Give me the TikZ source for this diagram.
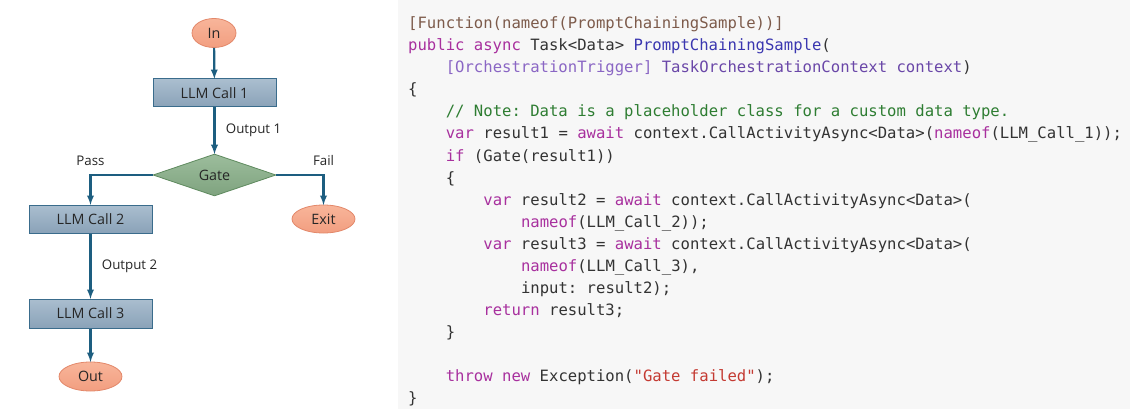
\documentclass[tikz,border=0pt]{standalone}
\usepackage{fontspec}
\setmainfont{Open Sans}
\setmonofont{DejaVu Sans Mono}
\usetikzlibrary{arrows,shapes.geometric}

\definecolor{flowline}{HTML}{1D5E80}
\definecolor{boxedge}{HTML}{3A6C8C}
\definecolor{boxtop}{HTML}{AABECF}
\definecolor{boxbot}{HTML}{8AA2B8}
\definecolor{ovaledge}{HTML}{E3886A}
\definecolor{ovaltop}{HTML}{F8B59A}
\definecolor{ovalbot}{HTML}{F29E80}
\definecolor{gateedge}{HTML}{5E8A5E}
\definecolor{gatetop}{HTML}{9CBD9C}
\definecolor{gatebot}{HTML}{7FA37F}
\definecolor{codebg}{HTML}{F7F7F7}
\definecolor{ctxt}{HTML}{333333}
\definecolor{ckw}{HTML}{A8309E}
\definecolor{cattr}{HTML}{7D5B4B}
\definecolor{cfunc}{HTML}{3A36B0}
\definecolor{ctrig}{HTML}{8A66C4}
\definecolor{ctype}{HTML}{6A47A8}
\definecolor{ccom}{HTML}{2E7D32}
\definecolor{cstr}{HTML}{C43A32}

\newcommand{\codekw}[1]{\textcolor{ckw}{#1}}
\newcommand{\codecom}[1]{\textcolor{ccom}{#1}}

\begin{document}
\begin{tikzpicture}[>=latex,x=1pt,y=-1pt,
	box/.style={draw=boxedge,line width=1pt,top color=boxtop,bottom color=boxbot,
		minimum width=123pt,minimum height=28pt,inner sep=0pt,font=\fontsize{14.3}{16}\selectfont,text=black!85},
	oval/.style={ellipse,draw=ovaledge,line width=0.8pt,top color=ovaltop,bottom color=ovalbot,
		inner sep=0pt,font=\fontsize{14.3}{16}\selectfont,text=black!85},
	gatebox/.style={diamond,draw=gateedge,line width=0.8pt,top color=gatetop,bottom color=gatebot,
		minimum width=123pt,minimum height=38pt,inner sep=0pt,font=\fontsize{14.3}{16}\selectfont,text=black!85},
	flow/.style={-latex,draw=flowline,line width=2.2pt,shorten >=-0.5pt},
	lbl/.style={font=\fontsize{13.3}{15}\selectfont,text=black!85},
	code/.style={anchor=base west,inner sep=0pt,font=\ttfamily\fontsize{15.6}{18}\selectfont,text=ctxt}]

\useasboundingbox (0,0) rectangle (1130,409);
\fill[white] (0,0) rectangle (1130,409);
\fill[codebg] (398,0) rectangle (1130,409);

% flowchart
\node[oval,minimum width=44pt,minimum height=29pt] (in) at (214,33) {In};
\node[box] (call1) at (214.5,93) {LLM Call 1};
\node[gatebox] (gate) at (214.5,175) {Gate};
\node[box] (call2) at (90.5,219) {LLM Call 2};
\node[oval,minimum width=63pt,minimum height=28pt] (exit) at (323.5,219) {Exit};
\node[box,minimum height=29pt] (call3) at (90.5,313.5) {LLM Call 3};
\node[oval,minimum width=63pt,minimum height=29pt] (out) at (90.5,376.5) {Out};

\draw[flow] (in)--(call1);
\draw[flow] (call1)--(gate) node[midway,right=7pt,lbl] {Output 1};
\draw[flow] (gate.west)-|(call2.north) node[pos=0.5,above=5pt,lbl] {Pass};
\draw[flow] (gate.east)-|(exit.north) node[pos=0.5,above=5pt,lbl] {Fail};
\draw[flow] (call2)--(call3) node[midway,right=7pt,lbl] {Output 2};
\draw[flow] (call3)--(out);

% code
\node[code] (c1) at (408,29) {\textcolor{cattr}{[Function(nameof(PromptChainingSample))]}};
\node[code] (c2) at (408,51) {\codekw{public async} Task<Data> \textcolor{cfunc}{PromptChainingSample}(};
\node[code] (c3) at (445.6,73) {\textcolor{ctrig}{[OrchestrationTrigger]} \textcolor{ctype}{TaskOrchestrationContext context})};
\node[code] (c4) at (408,95) {\{};
\node[code] (c5) at (445.6,117) {\codecom{// Note: Data is a placeholder class for a custom data type.}};
\node[code] (c6) at (445.6,139) {\codekw{var} result1 = \codekw{await} context.CallActivityAsync<Data>(\codekw{nameof}(LLM\_Call\_1));};
\node[code] (c7) at (445.6,161) {\codekw{if} (Gate(result1))};
\node[code] (c8) at (445.6,183) {\{};
\node[code] (c9) at (483.2,205) {\codekw{var} result2 = \codekw{await} context.CallActivityAsync<Data>(};
\node[code] (c10) at (520.8,227) {\codekw{nameof}(LLM\_Call\_2));};
\node[code] (c11) at (483.2,249) {\codekw{var} result3 = \codekw{await} context.CallActivityAsync<Data>(};
\node[code] (c12) at (520.8,271) {\codekw{nameof}(LLM\_Call\_3),};
\node[code] (c13) at (520.8,293) {input: result2);};
\node[code] (c14) at (483.2,315) {\codekw{return} result3;};
\node[code] (c15) at (445.6,337) {\}};
\node[code] (c17) at (445.6,381) {\codekw{throw new} Exception(\textcolor{cstr}{"Gate failed"});};
\node[code] (c18) at (408,403) {\}};

\end{tikzpicture}
\end{document}
